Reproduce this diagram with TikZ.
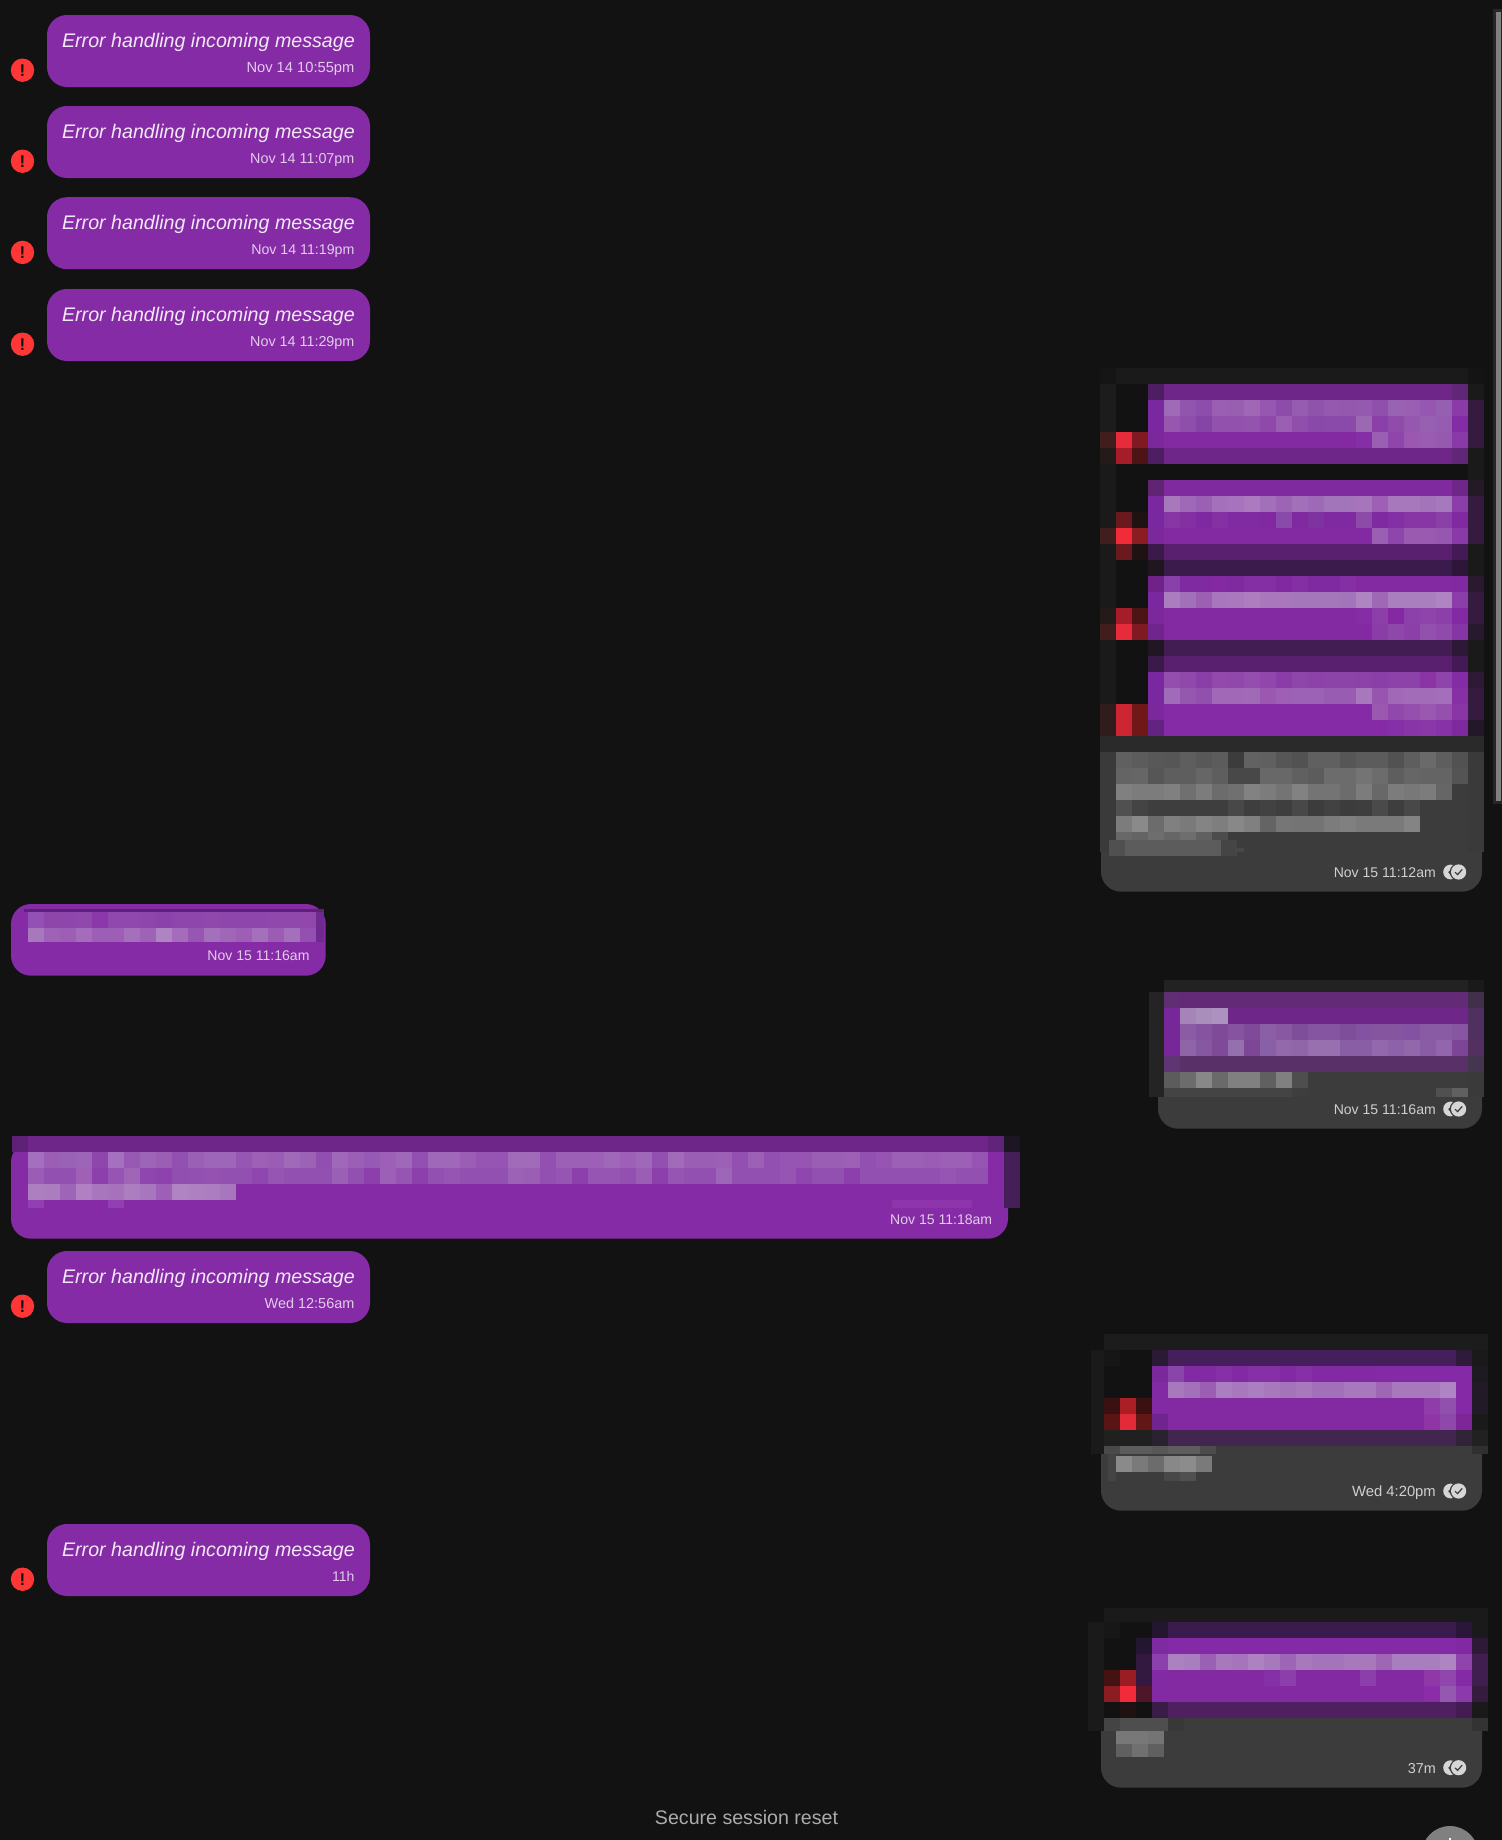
\documentclass[tikz,border=0pt]{standalone}
\usepackage{fontspec}
\setmainfont{Liberation Sans}
\newcount\pxx
\newcommand\prow[4]{%
  \global\pxx=#1\relax
  \foreach \pc/\pn in {#4}{%
    \ifx\pc\pn\def\pn{1}\fi
    \definecolor{pixtmp}{HTML}{\pc}%
    \fill[pixtmp] (\the\pxx,#2) rectangle ++({\pn*16+.4},{#3+.4});
    \pgfmathtruncatemacro\pw{\pn*16}%
    \global\advance\pxx by \pw\relax
  }%
}
\newcommand\pcell[5]{%
  \definecolor{pixtmp}{HTML}{#5}%
  \fill[pixtmp] (#1,#2) rectangle ++(#3,#4);
}
\newcommand\tsz[1]{\fontsize{#1}{18}\selectfont}
\definecolor{bgc}{HTML}{121212}
\definecolor{purp}{HTML}{852BA6}
\definecolor{grayb}{HTML}{3C3C3C}
\definecolor{redi}{HTML}{FF3636}
\definecolor{errc}{HTML}{F2E8F6}
\definecolor{timep}{HTML}{E2CCEA}
\definecolor{timeg}{HTML}{CFCFCF}
\definecolor{ticks}{HTML}{D6D6D6}
\definecolor{notec}{HTML}{ABABAB}
\tikzset{
  bubblep/.style={fill=purp,rounded corners=20pt},
  bubbleg/.style={fill=grayb,rounded corners=20pt},
  errtext/.style={anchor=base east,inner sep=0pt,text=errc,font=\fontsize{19.65}{24}\selectfont\itshape},
  timetext/.style={anchor=base east,inner sep=0pt,text=timep},
  timegray/.style={anchor=base east,inner sep=0pt,text=timeg},
  erricon/.style={circle,fill=redi,inner sep=0pt,minimum size=23.4pt,text=bgc,font=\fontsize{17}{17}\selectfont\bfseries},
  sysnote/.style={anchor=center,inner sep=0pt,text=notec,font=\fontsize{19.6}{22}\selectfont},
}
\newcommand\errmsg[3]{%
  \fill[bubblep] (47,#2) rectangle (370,{#2+72});
  \node[errtext] (err#1) at (355,{#2+32.3}) {Error handling incoming message};
  \node[timetext] (time#1) at (354.6,{#2+57.3}) {#3};
  \node[erricon] (icon#1) at (22.5,{#2+55.2}) {!};
}
\newcommand\ticks[2]{% centre of right circle
  \fill[ticks] ({#1-8},#2) circle (7.4);
  \draw[grayb,line width=1.3pt] ({#1-5},{#2-4}) -- ({#1-9.5},{#2+.2}) -- ({#1-5.5},{#2+5});
  \fill[grayb] (#1,#2) circle (8.9);
  \fill[ticks] (#1,#2) circle (7.6);
  \draw[grayb,line width=1.2pt] ({#1-3.6},{#2+.2}) -- ({#1-1},{#2+2.6}) -- ({#1+3.6},{#2-2.6});
}
\begin{document}
\begin{tikzpicture}[x=1pt,y=-1pt]
\useasboundingbox (0,0) rectangle (1502,1840);
\fill[bgc] (0,0) rectangle (1502,1840);
\clip (0,0) rectangle (1502,1840);
% scrollbar
\fill[black!85!white] (1493,9) rectangle (1502,804);
\fill[white!50!black] (1496,12) rectangle (1501,801);
% left error bubbles
\errmsg{a}{15}{\tsz{14.7}Nov 14 10:55pm}
\errmsg{b}{106}{\tsz{14.35}Nov 14 11:07pm}
\errmsg{c}{197.2}{\tsz{14.2}Nov 14 11:19pm}
\errmsg{d}{289}{\tsz{14.35}Nov 14 11:29pm}
\errmsg{e}{1251}{\tsz{14.45}Wed 12:56am}
\errmsg{f}{1524}{\tsz{14}11h}
% block 1
\fill[bubbleg] (1101,700) rectangle (1482,891.7);
\prow{1100}{368}{16}{151515,1A1A1A/22,141414}
\prow{1100}{384}{16}{1C1C1C,121212/2,4E1E62,6E2688/18,5F2775,1A1A1A}
\prow{1100}{400}{16}{1C1C1C,121212/2,7A289F,9F6AB7,9255AE,8D4DAA,9A5FB2,985FB1,9F67B5,9557AF,8C4CAA,955CB1,9053AC,9559AF,9459AE,935AAF,8F50AB,9763B2,9A5EB2,9557AF,9560B2,8A3BA8,351C3F}
\prow{1100}{416}{16}{1C1C1C,121212/2,7A289F,9857AF,8D4FAA,8445A6,9251AC,9151AC,9254AD,8E49A9,9A5FB2,8F4FAB,8949A8,8A4AA9,8A4AA9,9B68B2,8B3FA8,8F4CAB,9558AE,9860B1,955CB1,842BA6,351C3F}
\prow{1100}{432}{16}{401E1E,E62B3B,801A22,7A289B,832AA2/12,852FA6,9A5FB2,8F46AB,9A58B0,9A5CB2,9559AF,8A39A8,351C3F}
\prow{1100}{448}{16}{251A1A,A61C28,4C1414,4E1E62,6E2688/18,5F2775,1A1A1A}
\prow{1100}{464}{16}{1A1A1A,121212/22,1A1A1A}
\prow{1100}{480}{16}{1A1A1A,121212/2,5F2573,7F2A9E/18,6E2688,231A25}
\prow{1100}{496}{16}{1A1A1A,121212/2,7A289F,A878BD,9F69B7,9A60B3,A570BB,A673BC,AC7ABF,A26FB9,9D63B5,A26FB9,9E69B6,A275BA,A275BA,A675BB,9D60B4,A878BD,A878BD,A474BA,A678BC,8B3EA9,351C3F}
\prow{1100}{512}{16}{1A1A1A,6A1A1E,1E1212,7A289F,8835A5,8430A3,7F29A0,8530A3,802BA1,802BA1,8029A0,8A4AA9,7F2AA1,7F33A1,7F2AA0,7F2AA0,8C4AA9,7F2AA0,8230A3,8836A5,8836A5,8B40A8,8029A0,351C3F}
\prow{1100}{528}{16}{401E1E,F22B3B,8A1C22,7A289B,832AA2/13,9A5FB2,8F46AB,9A5AB0,9A5AB2,9557AF,8A39A8,351C3F}
\prow{1100}{544}{16}{1A1A1A,6A1A1E,1E1212,3A1A48,5A2070/18,431A55,1A1A1A}
\prow{1100}{560}{16}{1A1A1A,121212/2,1F161F,3B1A4C/18,2E1638,1A1A1A}
\prow{1100}{576}{16}{1A1A1A,121212/2,6F2288,8A40AA,7F2AA0/2,832AA2,802AA0,8430A4,8430A4,8029A0,8430A4,7F2AA0/2,8430A4,832AA2/6,8029A0,2A1A30}
\prow{1100}{592}{16}{1A1A1A,121212/2,7A289F,AB7CBE,A270B8,9C60B3,A876BC,AA78BD,AD7DBF,A877BC,A877BC,A477BA,A477BA,A477BA,A274B9,AE84C1,9E68B5,A97FBE/3,AE85C2,8B3EA9,351C3F}
\prow{1100}{608}{16}{251A1A,A61C28,4C1414,7A289B,832AA2/12,852DA4,8C3FA9,8429A2,8C40AA,8F44AC,8C3EA9,8329A3,351C3F}
\prow{1100}{624}{16}{401E1E,E62B3B,801A22,70248E,832AA2/13,8A3DA7,8D48AA,8B40A8,9351AE,8F4AAB,8635A5,281A2E}
\prow{1100}{640}{16}{1A1A1A,121212/2,211624,421D54/18,2E1838,1A1A1A}
\prow{1100}{656}{16}{1A1A1A,121212/2,3A1A48,5A2070/18,431A55,1A1A1A}
\prow{1100}{672}{16}{1A1A1A,121212/2,7A289F,944FAE,9048AB,8A3FA8,9349AC,9048AB,944FAE,9046AB,8A3DA8,8E46AB,8C42A9,8C44A9,8C44A9,8C42A9,8A3FA8,8C42A9,8C42A9,8A34A6,8F44AB,842BA6,2E1A35}
\prow{1100}{688}{16}{1A1A1A,121212/2,7A289F,A06BB9,9558AF,9050AB,A068B6,A068B6,A06AB7,9A58B0,9E60B4,9B62B5,9B62B5,985DB3,985DB3,A878BD,9755AF,A068B7,A26CB9,A26CB9,A56EBA,8730A6,351C3F}
\prow{1100}{704}{16}{301C1C,CC2632,701818,7A289B,862BA6/13,9A58B0,9048AB,9550AE,9A58B1,9550AE,8A35A6,351C3F}
\prow{1100}{720}{16}{301C1C,CC2632,701818,622480,862BA6/13,852BA6,8530A6,8835A7,8A38A8,8732A6,7E2A9E,231828}
\prow{1100}{736}{16}{2A2A2A/24}
\prow{1100}{752}{16}{3A3A3A,606060,5C5C5C,585858,565656,5E5E5E,585858,5C5C5C,3C3C3C,626262,606060,565656,525252,606060,606060,565656,5C5C5C,5C5C5C,525252,5E5E5E,6A6A6A,5E5E5E,525252,3A3A3A}
\prow{1100}{768}{16}{3A3A3A,646464,666666,565656,5E5E5E,5E5E5E,666666,5E5E5E,484848,484848,686868,686868,606060,5C5C5C,6C6C6C,6C6C6C,747474,6C6C6C,5E5E5E,666666,646464,646464,545454,3A3A3A}
\prow{1100}{784}{16}{3A3A3A,808080,7C7C7C,7C7C7C,808080,707070,7C7C7C,6C6C6C,707070,828282,7C7C7C,747474,828282,747474,747474,6C6C6C,7C7C7C,686868,7C7C7C,787878,7C7C7C,666666,3C3C3C,3A3A3A}
\prow{1100}{800}{16}{3A3A3A,505050,444444,3E3E3E/5,484848,3E3E3E,424242,3E3E3E,484848,3C3C3C,424242,3C3C3C,3E3E3E,4A4A4A,3E3E3E,484848,3C3C3C/3,3A3A3A}
\prow{1100}{816}{16}{3A3A3A,7C7C7C,8A8A8A,6C6C6C,808080,7A7A7A,848484,7E7E7E,888888,808080,646464,767676,747474,747474,7C7C7C,808080,7A7A7A,7A7A7A,7A7A7A,848484,3C3C3C/3,3A3A3A}
\prow{1100}{832}{8}{3A3A3A,686868,646464,6E6E6E,666666,6E6E6E,606060,4C4C4C,3C3C3C/15,3A3A3A}
\pcell{1100}{840}{16}{12}{3A3A3A}
\pcell{1468}{840}{16}{12}{3A3A3A}
\prow{1109}{840}{16}{505050,5C5C5C/6,454545}
\pcell{1235}{848}{9}{4}{484848}
\node[timegray] (time1) at (1436,877.3) {\tsz{14.05}Nov 15 11:12am};
\ticks{1458.6}{872}
% Nov 15 11:16am left
\fill[bubblep] (11,904) rectangle (325.7,975.7);
\pcell{24}{909}{300}{3}{5F2178}
\prow{28}{912}{16}{9350B5,8F46AB,8E46AC,9048AD,8B38AA,9148AE,9148AE,8E46AC,8C42AB,8E46AC,8E46AC,9048AD,8E46AC,8E46AC,8E46AC,9048AD,9048AD,9048AD}
\pcell{316}{912}{8}{30}{6F2A8F}
\prow{28}{928}{14}{A878BD,9E62B6,9C5FB5,A46CBA,9C5FB5,9C5FB5,A470BB,9E62B6,AE85C2,A46CBA,9656B2,A470BB,A066B7,9C5FB5,A470BB,9C5CB4,A470BB,9350B0}
\node[timetext] (time2) at (309.7,960) {\tsz{14.05}Nov 15 11:16am};
% block 2
\fill[bubbleg] (1158,1000) rectangle (1482,1128.7);
\pcell{1149}{992}{15}{105}{242424}
\prow{1164}{980}{12}{222222/19,1A1A1A}
\prow{1164}{992}{16}{5F2E73,632A78/18,40304A}
\prow{1164}{1008}{16}{76289A,A585B8,A98DBB,AC92BE,6E2688/15,50305E}
\prow{1164}{1024}{16}{762899,8B5CA4,8653A0,7F4B99,8653A0,7F4A98,8A5FA5,8858A2,7F4E9A,8655A1,8655A1,7F4E9A,8352A0,8555A0,8555A0,8352A0,8A5BA5,8A5BA5,8656A2,50305E}
\prow{1164}{1040}{16}{762899,9065A8,8658A2,7E4B99,9570AE,7C4896,8860A5,9469AB,9066A9,9870B0,9870B0,8A5EA5,8A5EA5,9468AC,8E62A8,9268AB,8A5CA5,9265AC,7C4596,52305F}
\prow{1164}{1056}{16}{5F3572,5A3069/18,453650}
\prow{1164}{1072}{16}{5C5C5C,6C6C6C,888888,6A6A6A,808080,808080,606060,808080,4E4E4E,3C3C3C/10,3A3A3A}
\prow{1164}{1088}{9}{444444/8,3E3E3E,3C3C3C/8,505050,606060,3A3A3A}
\node[timegray] (time3) at (1436,1114.3) {\tsz{14.05}Nov 15 11:16am};
\ticks{1458.6}{1109}
% big purple
\fill[bubblep] (11,1142) rectangle (1008,1238.7);
\prow{12}{1136}{16}{5F2178,6E2688/60,60257A,1E1522}
\prow{28}{1152}{16}{A56FBF,9A5FB5,9A62B6,9D65B8,8E46AD,A570BF,9759B3,9C65B7,9A5FB5,9250B0,9A60B5,9E66B8,9E66B8,9657B2,9D60B6,9A5CB4,A06AB8,9B62B6,9150B0,A068B8,9B60B6,975AB4,9D60B6,A068B8,9250B0,A068B8,A068B8,9A5FB5,9655B3,9655B3,A26BBA,A26BBA,9250B0,9C60B6,9C60B6,9C60B6,A068B8,9C60B6,A068B8,9250B0,A26BBA,9A5FB5,9A5FB5,9C60B6,9250B0,9C60B6,9250B0,9655B3,9655B3,9A5FB5,9A5FB5,9E60B7,9250B0,9655B3,9C60B6,9C60B6,9A5CB4,9C60B6,9C60B6,9655B3}
\prow{28}{1168}{16}{9A5CB4,9250B0,9250B0,A060B6,8C40AC,9655B3,A065B7,8F46AE,8D42AD,9150B0,9250B0,9552B1,9250B0,9250B0,8F46AE,9655B3,9250B0,9250B0,9250B0,9A60B5,9250B0,8C40AC,9C60B6,9655B3,8C40AC,9250B0,9655B3,9250B0,9250B0,9250B0,9C62B6,9A5FB5,9250B0,9655B3,8C40AC,9655B3,9655B3,9250B0,9A5FB5,8C40AC,9655B3,9250B0,9250B0,9E66B8,9250B0,9250B0,9250B0,9655B3,8F46AE,9250B0,9250B0,8C40AC,9250B0,9250B0,9250B0,9250B0,9250B0,9655B3,9250B0,9250B0}
\prow{28}{1184}{16}{AD7FC1,AB7DBF,9E64B7,B080C3,A876BC,A672BB,AC7EC0,A876BC,9C60B6,B084C3,AE80C1,AC7DC0,A876BC}
\prow{28}{1200}{8}{9040B0}
\prow{108}{1200}{8}{9040B0}
\prow{892}{1200}{8}{8F35AB/5}
\prow{1004}{1152}{16}{452058}
\prow{1004}{1168}{16}{452058}
\prow{1004}{1184}{16}{452058}
\prow{1004}{1200}{8}{452058}
\node[timetext] (time4) at (992.4,1224) {\tsz{14.05}Nov 15 11:18am};
% block 3
\fill[bubbleg] (1101,1360) rectangle (1482,1510.7);
\pcell{1091}{1350}{13}{104}{1A1A1A}
\prow{1104}{1334}{16}{1C1C1C/24}
\prow{1104}{1350}{16}{161616,121212/2,2A1A36,451E5C/18,2E1A3A,1A1A1A}
\prow{1104}{1366}{16}{121212/3,7A289B,8A45AA,8229A4,8229A4,8530A6,8229A4,8530A6,8530A6,8229A4,8530A6,8229A4,8229A4,8329A4,8329A4,852AA6/5,852AA6,1E1A22}
\prow{1104}{1382}{16}{121212/3,8229A4,A878BD,A470BA,9A5EB2,AA7EBF,A878BD,AA7EBF,A878BD,A474BA,A878BD,A270B8,A270B8,A878BD,A878BD,9E66B5,A878BD,A878BD,A878BD,AE85C2,8529A6,231A28}
\prow{1104}{1398}{16}{3A1010,AA1E26,3A1010,8229A4,832AA2/16,8F3DA8,9250AE,8529A6,231A28}
\prow{1104}{1414}{16}{5A1414,E22A38,621616,702490,832AA2/16,8F35A6,8E47AB,7E2698,1A1A1A}
\prow{1104}{1430}{16}{202020/3,2A2230,432650/18,322438,212121}
\prow{1104}{1446}{8}{4A4A4A,5C5C5C,5C5C5C,585858,5E5E5E,5E5E5E,4C4C4C,3C3C3C/16,303030}
\pcell{1108}{1454}{8}{27}{444444}
\prow{1116}{1456}{16}{8A8A8A,7A7A7A,6C6C6C,888888,8C8C8C,7A7A7A}
\prow{1164}{1472}{9}{484848,505050}
\node[timegray] (time5) at (1436,1496.3) {\tsz{14.8}Wed 4:20pm};
\ticks{1458.6}{1491}
% 11h block 4
\fill[bubbleg] (1101,1640) rectangle (1482,1787.7);
\pcell{1088}{1622}{16}{109}{1A1A1A}
\prow{1104}{1608}{14}{1A1A1A/24}
\prow{1104}{1622}{16}{171717,121212/2,231630,3B1A4C/18,2A1638,1A1A1A}
\prow{1104}{1638}{16}{121212/2,231630,7E2AA0,852AA6/18,8029A2,2E1A38}
\prow{1104}{1654}{16}{121212/2,331840,8C40AC,AB82BF,A97EBE,9A60B3,A878BD,A674BB,AE82C0,A878BD,9D65B5,A878BD,A474BA,A474BA,A878BD,A878BD,9E66B5,A97EBE,A97EBE,A97EBE,AE85C2,8E44AC,401E50}
\prow{1104}{1670}{16}{451212,9C1C24,331840,8229A4,832AA2/6,8530A6,8C3EAA,832AA2/4,8C3EAA,832AA2/3,9038A8,9046AC,852AA6,401E50}
\prow{1104}{1686}{16}{8A1C22,F22B3B,4E1628,8229A4,832AA2/16,8B2DA8,9558B0,8A3AAA,351C3F}
\prow{1104}{1702}{16}{121212,1E1212,121212,3A1C48,4E2060/18,421C52,1A1A1A}
\prow{1104}{1718}{13}{444444,4E4E4E/3,383838,3C3C3C/18,333333}
\prow{1116}{1731}{13}{787878,787878,747474}
\prow{1116}{1744}{13}{606060,707070,606060}
\node[timegray] (time6) at (1436,1773) {\tsz{14.4}37m};
\ticks{1458.6}{1767.7}
% footer
\node[sysnote] (reset) at (746.5,1817) {Secure session reset};
\fill[white!50!black] (1450,1854.4) circle (28.4);
\draw[white,line width=1.4pt] (1450,1838) -- (1450,1841);
\end{tikzpicture}
\end{document}
